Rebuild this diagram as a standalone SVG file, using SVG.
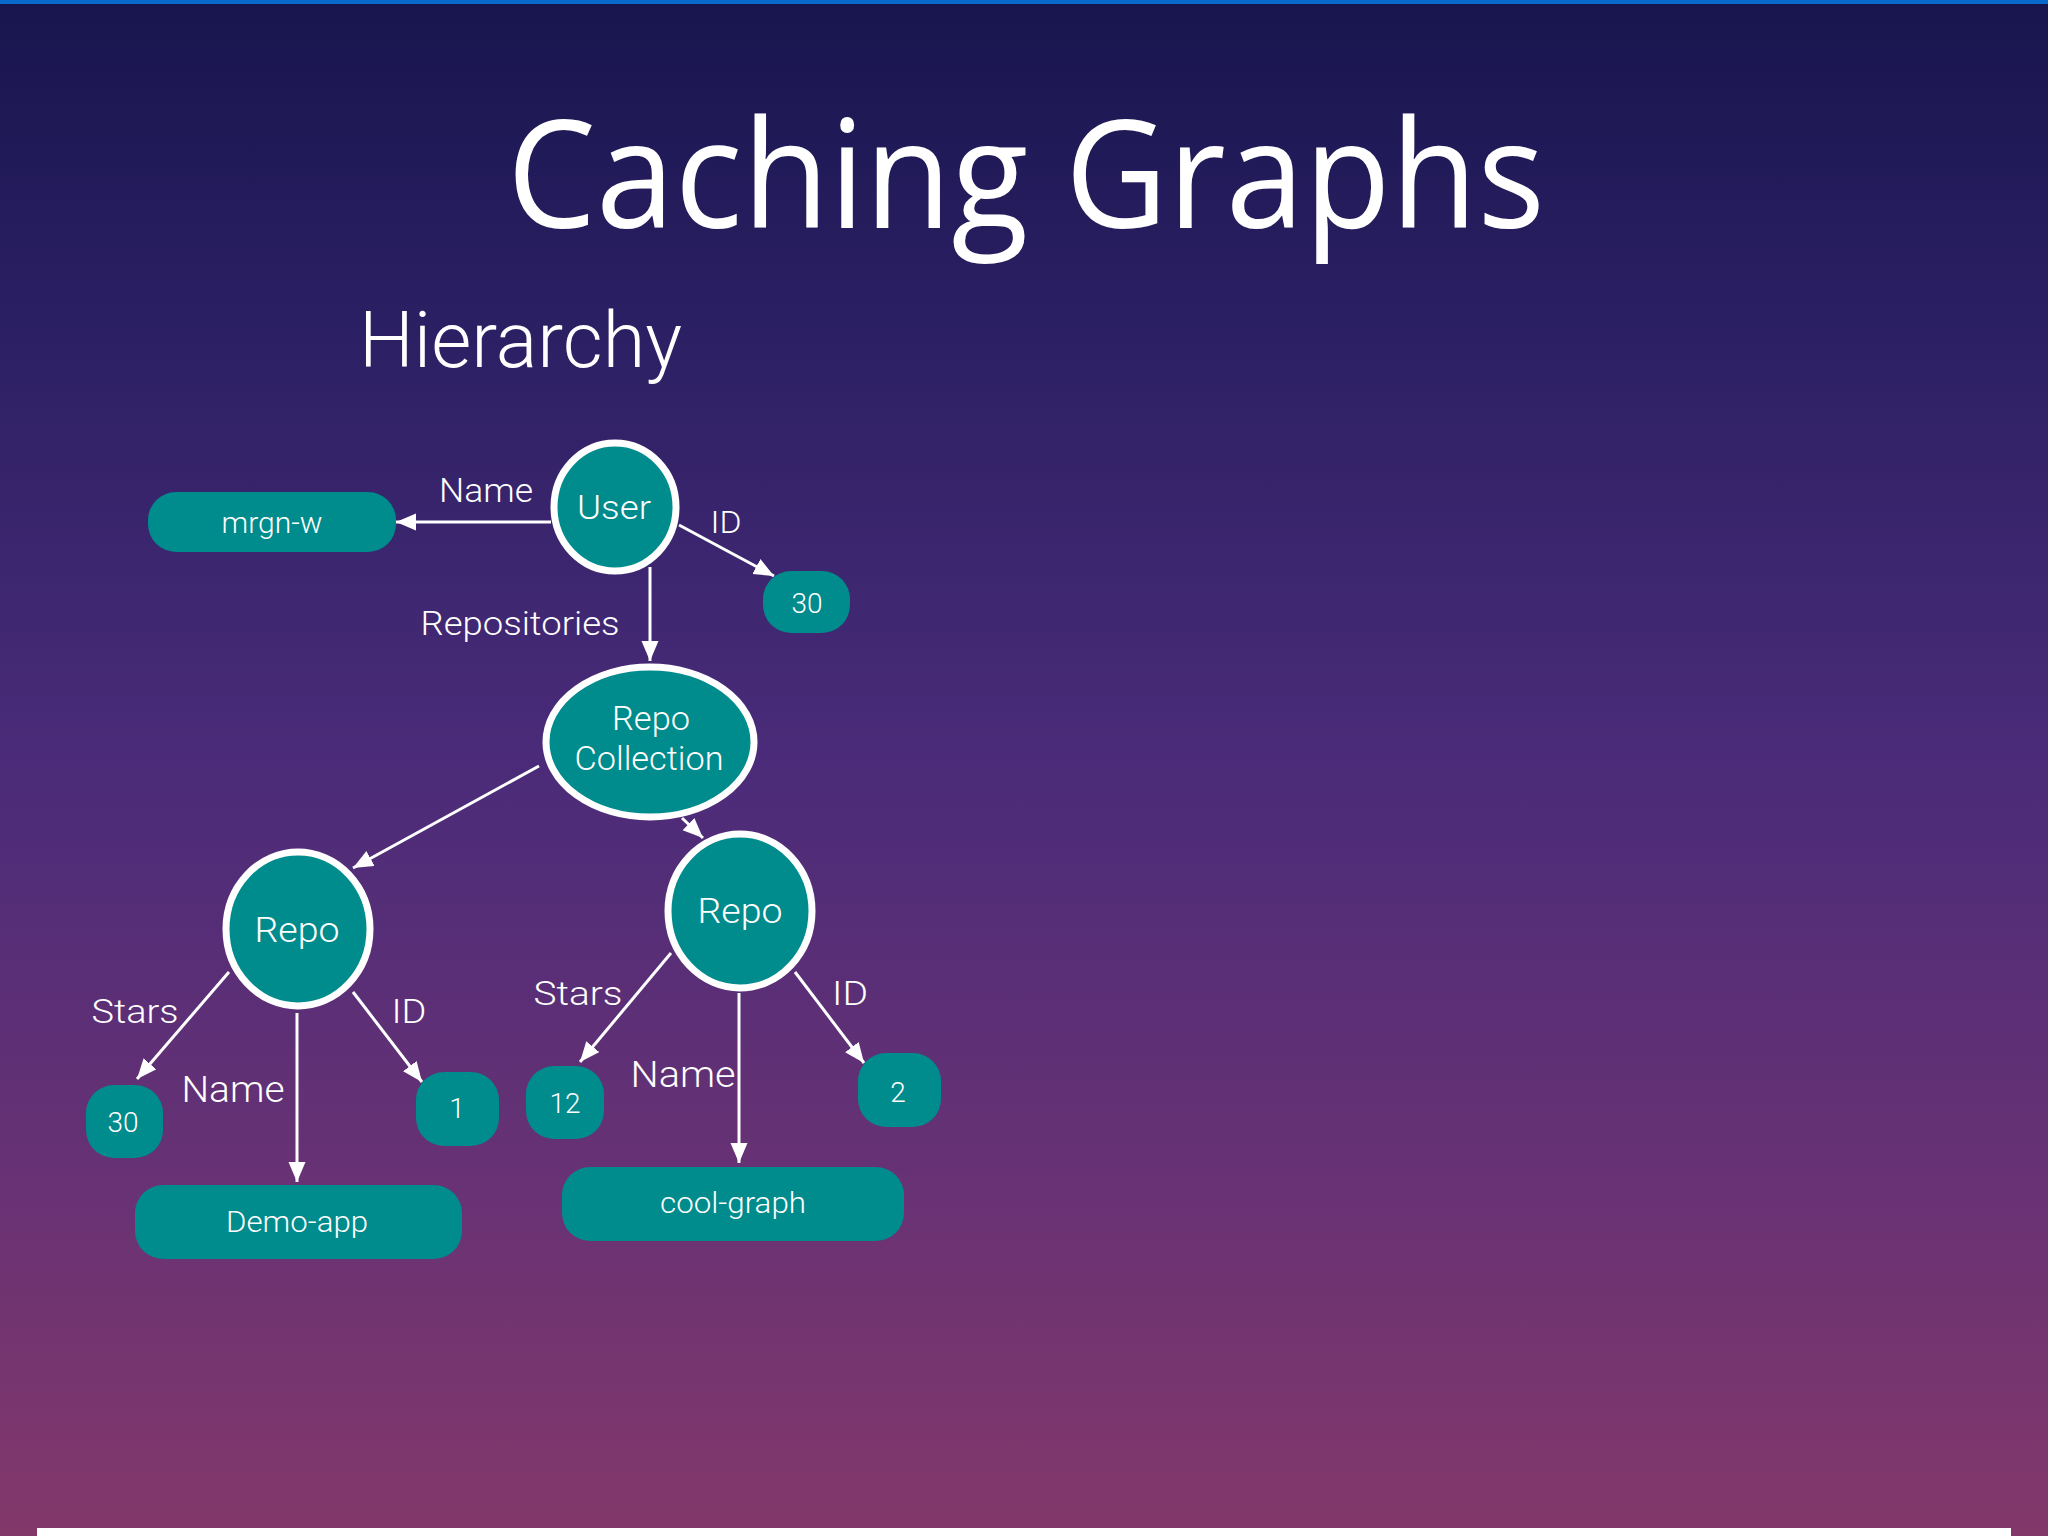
<svg xmlns="http://www.w3.org/2000/svg" width="2048" height="1536" viewBox="0 0 2048 1536">
<defs>
<linearGradient id="bg" x1="0" y1="0" x2="0" y2="1">
<stop offset="0" stop-color="#18154e"/>
<stop offset="0.2" stop-color="#2a1f62"/>
<stop offset="0.49" stop-color="#4a2b79"/>
<stop offset="0.78" stop-color="#693274"/>
<stop offset="1" stop-color="#83386a"/>
</linearGradient>
<marker id="arr" markerUnits="userSpaceOnUse" markerWidth="22" markerHeight="18" refX="20" refY="8.5" orient="auto">
<path d="M0,0 L20,8.5 L0,17 z" fill="#ffffff"/>
</marker>
<style>
.node{fill:#008b8c;stroke:#ffffff;stroke-width:7}
.pill{fill:#008b8c}
.t{font-family:Roboto,"Liberation Sans",sans-serif;font-weight:300;fill:#ffffff;text-anchor:middle}
.edge{stroke:#ffffff;stroke-width:3;fill:none;marker-end:url(#arr)}
</style>
</defs>
<rect x="0" y="0" width="2048" height="1536" fill="url(#bg)"/>
<rect x="0" y="0" width="2048" height="4" fill="#0a6acb"/>
<rect x="37" y="1528" width="1974" height="8" fill="#ffffff"/>
<text x="1026" y="228" font-family="'Open Sans','Noto Sans',sans-serif" font-size="150" fill="#ffffff" text-anchor="middle" textLength="1038" lengthAdjust="spacingAndGlyphs">Caching Graphs</text>
<text x="359" y="367" font-family="Roboto,'Liberation Sans',sans-serif" font-weight="300" font-size="77" fill="#ffffff" textLength="323" lengthAdjust="spacingAndGlyphs">Hierarchy</text>

<g id="connectors">
<line class="edge" x1="551" y1="522" x2="396" y2="522"/>
<line class="edge" x1="679" y1="525" x2="774" y2="576"/>
<line class="edge" x1="650" y1="567" x2="650" y2="661"/>
<line class="edge" x1="539" y1="766" x2="353" y2="868"/>
<line class="edge" x1="682" y1="818" x2="703" y2="838"/>
<line class="edge" x1="229" y1="972" x2="137" y2="1079"/>
<line class="edge" x1="297" y1="1013" x2="297" y2="1182"/>
<line class="edge" x1="353" y1="992" x2="422" y2="1082"/>
<line class="edge" x1="671" y1="953" x2="580" y2="1062"/>
<line class="edge" x1="739" y1="993" x2="739" y2="1163"/>
<line class="edge" x1="795" y1="972" x2="864" y2="1063"/>
<text class="t" x="486" y="502" font-size="33" textLength="94" lengthAdjust="spacingAndGlyphs">Name</text>
<text class="t" x="726" y="533" font-size="32" textLength="31" lengthAdjust="spacingAndGlyphs">ID</text>
<text class="t" x="520" y="635" font-size="33" textLength="199" lengthAdjust="spacingAndGlyphs">Repositories</text>
<text class="t" x="135" y="1023" font-size="33" textLength="87" lengthAdjust="spacingAndGlyphs">Stars</text>
<text class="t" x="233" y="1102" font-size="37" textLength="103" lengthAdjust="spacingAndGlyphs">Name</text>
<text class="t" x="409" y="1023" font-size="33" textLength="35" lengthAdjust="spacingAndGlyphs">ID</text>
<text class="t" x="578" y="1005" font-size="33" textLength="89" lengthAdjust="spacingAndGlyphs">Stars</text>
<text class="t" x="683" y="1087" font-size="36" textLength="105" lengthAdjust="spacingAndGlyphs">Name</text>
<text class="t" x="850" y="1005" font-size="33" textLength="36" lengthAdjust="spacingAndGlyphs">ID</text>
</g>

<g id="user">
<ellipse class="node" cx="615" cy="507" rx="61" ry="64"/>
<text class="t" x="614" y="519" font-size="34" textLength="74" lengthAdjust="spacingAndGlyphs">User</text>
</g>
<g id="user-name">
<rect class="pill" x="148" y="492" width="248" height="60" rx="28"/>
<text class="t" x="272" y="533" font-size="30" textLength="101" lengthAdjust="spacingAndGlyphs">mrgn-w</text>
</g>
<g id="user-id">
<rect class="pill" x="763" y="571" width="87" height="62" rx="28"/>
<text class="t" x="807" y="613" font-size="28">30</text>
</g>
<g id="repo-collection">
<ellipse class="node" cx="650" cy="742" rx="104" ry="75"/>
<text class="t" x="651" y="730" font-size="33" textLength="78" lengthAdjust="spacingAndGlyphs">Repo</text>
<text class="t" x="649" y="770" font-size="33" textLength="149" lengthAdjust="spacingAndGlyphs">Collection</text>
</g>
<g id="repo-left">
<ellipse class="node" cx="298" cy="929" rx="72" ry="77"/>
<text class="t" x="297" y="942" font-size="35" textLength="85" lengthAdjust="spacingAndGlyphs">Repo</text>
</g>
<g id="repo-right">
<ellipse class="node" cx="740" cy="911" rx="72" ry="77"/>
<text class="t" x="740" y="923" font-size="35" textLength="85" lengthAdjust="spacingAndGlyphs">Repo</text>
</g>
<g id="left-stars">
<rect class="pill" x="86" y="1085" width="77" height="73" rx="28"/>
<text class="t" x="123" y="1132" font-size="28">30</text>
</g>
<g id="left-id">
<rect class="pill" x="416" y="1072" width="83" height="74" rx="28"/>
<text class="t" x="457" y="1118" font-size="28">1</text>
</g>
<g id="left-name">
<rect class="pill" x="135" y="1185" width="327" height="74" rx="28"/>
<text class="t" x="297" y="1232" font-size="30" textLength="142" lengthAdjust="spacingAndGlyphs">Demo-app</text>
</g>
<g id="right-stars">
<rect class="pill" x="526" y="1066" width="78" height="73" rx="28"/>
<text class="t" x="565" y="1113" font-size="28">12</text>
</g>
<g id="right-id">
<rect class="pill" x="858" y="1053" width="83" height="74" rx="28"/>
<text class="t" x="898" y="1102" font-size="28">2</text>
</g>
<g id="right-name">
<rect class="pill" x="562" y="1167" width="342" height="74" rx="28"/>
<text class="t" x="733" y="1213" font-size="30" textLength="146" lengthAdjust="spacingAndGlyphs">cool-graph</text>
</g>
</svg>
